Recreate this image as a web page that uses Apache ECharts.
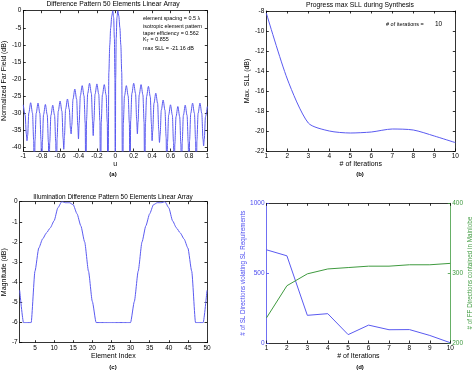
<!DOCTYPE html>
<html><head><meta charset="utf-8">
<script src="https://cdn.jsdelivr.net/npm/echarts@6/dist/echarts.min.js"></script>
<style>html,body{margin:0;padding:0;background:#fff}#c{width:474px;height:371px}</style>
</head><body><div id="c"></div>
<script>
// ---------- (a) Difference pattern (u, dB) ----------
const uA = [
 -1.0, -0.98, -0.967, -0.96,
 -0.953, -0.94, -0.92, -0.90, -0.887, -0.88,
 -0.873, -0.86, -0.84, -0.82, -0.807, -0.80,
 -0.793, -0.78, -0.76, -0.74, -0.727, -0.72,
 -0.713, -0.70, -0.68, -0.66, -0.647, -0.64,
 -0.633, -0.62, -0.60, -0.58, -0.567, -0.56,
 -0.553, -0.54, -0.52, -0.50, -0.487, -0.48,
 -0.473, -0.46, -0.44, -0.42, -0.407, -0.40,
 -0.393, -0.38, -0.36, -0.34, -0.327, -0.32,
 -0.313, -0.30, -0.28, -0.26, -0.247, -0.24,
 -0.233, -0.22, -0.20, -0.18, -0.167, -0.16,
 -0.153, -0.14, -0.12, -0.10, -0.087, -0.08,
 -0.07, -0.06, -0.05, -0.038, -0.027, -0.018, -0.01, -0.004, 0,
 0.004, 0.01, 0.018, 0.027, 0.038, 0.05, 0.06, 0.07, 0.08,
 0.087, 0.10, 0.12, 0.14, 0.153, 0.16,
 0.167, 0.18, 0.20, 0.22, 0.233, 0.24,
 0.247, 0.26, 0.28, 0.30, 0.313, 0.32,
 0.327, 0.34, 0.36, 0.38, 0.393, 0.40,
 0.407, 0.42, 0.44, 0.46, 0.473, 0.48,
 0.487, 0.50, 0.52, 0.54, 0.553, 0.56,
 0.567, 0.58, 0.60, 0.62, 0.633, 0.64,
 0.647, 0.66, 0.68, 0.70, 0.713, 0.72,
 0.727, 0.74, 0.76, 0.78, 0.793, 0.80,
 0.807, 0.82, 0.84, 0.86, 0.873, 0.88,
 0.887, 0.90, 0.92, 0.94, 0.953, 0.96,
 0.967, 0.98, 1.0
];
const dbA = [
 -27.5, -30.5, -36, -38,
 -36.5, -29.9, -26.9, -29.9, -37.9, -60,
 -38.0, -30.0, -27.0, -30.0, -38.0, -60,
 -38.4, -30.4, -27.4, -30.4, -38.4, -60,
 -38.6, -30.6, -27.6, -30.6, -38.6, -60,
 -37.4, -29.4, -26.4, -29.4, -37.4, -40.5,
 -36.8, -28.8, -25.8, -28.8, -34.5, -36,
 -33.5, -25.9, -22.9, -25.9, -33.9, -37.5,
 -32.9, -24.9, -21.9, -24.9, -32.9, -60,
 -32.2, -24.2, -21.2, -24.2, -32.2, -36.5,
 -32.4, -24.4, -21.4, -24.4, -32.4, -60,
 -32.6, -24.6, -21.6, -24.6, -32.6, -60,
 -18, -10, -5, -1.5, 0, -2, -8, -20, -60,
 -20, -8, -2, 0, -1.5, -5, -10, -18, -60,
 -32.9, -24.9, -21.9, -24.9, -32.9, -60,
 -32.2, -24.2, -21.2, -24.2, -32.2, -36,
 -32.6, -24.6, -21.6, -24.6, -32.6, -60,
 -33.1, -25.1, -22.1, -25.1, -33.1, -38,
 -35.1, -27.1, -24.1, -27.1, -35.1, -38.5,
 -36.5, -29.1, -26.1, -29.1, -37.1, -60,
 -38.5, -30.5, -27.5, -30.5, -38.5, -60,
 -39.0, -31.0, -28.0, -31.0, -39.0, -60,
 -38.6, -30.6, -27.6, -30.6, -38.6, -60,
 -38.0, -30.0, -27.0, -30.0, -38.0, -60,
 -38.0, -30.0, -27.0, -30.0, -37.5, -39.5,
 -37.5, -31.0, -28.0
];
const aYTicks = [0, -5, -10, -15, -20, -25, -30, -35, -40];
const aNotes = ['element spacing = 0.5 \u03bb', 'isotropic element pattern', 'taper efficiency = 0.562', 'K{s|T} = 0.855', 'max SLL = -21.16 dB'];

// ---------- (b) Progress of max SLL ----------
const iterB = [1, 2, 3, 4, 5, 6, 7, 8, 9, 10];
const sllB = [-8.2, -14.8, -19.2, -20.0, -20.2, -20.1, -19.8, -19.9, -20.5, -21.16];

// ---------- (c) Illumination ----------
const elemC = [
 1, 2, 3, 4, 5, 6, 7, 8, 9, 10, 11, 12, 13, 14, 15, 16, 17, 18, 19, 20, 21, 22, 23, 24, 25,
 26, 27, 28, 29, 30, 31, 32, 33, 34, 35, 36, 37, 38, 39, 40, 41, 42, 43, 44, 45, 46, 47, 48, 49, 50
];
const magC = [
 -4.4, -6, -6, -6, -3.45, -2.3, -1.85, -1.55, -1.3, -0.95,
 -0.3, 0, -0.05, -0.05, -0.15, -0.6, -1.2, -2.0, -3.45, -4.95,
 -6, -6, -6, -6, -6, -6, -6, -6, -6, -6,
 -4.95, -3.45, -2.0, -1.2, -0.6, -0.15, -0.05, -0.05, 0, -0.3,
 -0.95, -1.3, -1.55, -1.85, -2.3, -3.45, -6, -6, -6, -4.4
];
const cXTicks = [5, 10, 15, 20, 25, 30, 35, 40, 45, 50];

// ---------- (d) Directions ----------
const iterD = [1, 2, 3, 4, 5, 6, 7, 8, 9, 10];
const violD = [667, 624, 198, 210, 60, 128, 95, 96, 54, 2];
const ffD = [236, 282, 299, 306, 308, 310, 310, 312, 312, 314];

const F = 'Liberation Sans, Arial, sans-serif';
const BLUE = '#5a5af0';
const AXBLUE = '#4a4af0';
const GREEN = '#3f9a3f';
const FS = 6.5;

function xAx(gi, min, max, extra) {
  return Object.assign({
    type: 'value', gridIndex: gi, min: min, max: max, position: 'bottom',
    axisLine: {show: true, onZero: false, lineStyle: {color: '#000', width: 0.8}},
    axisTick: {show: true, inside: true, length: 2.5, lineStyle: {color: '#000', width: 0.8}},
    axisLabel: {show: true, fontFamily: F, fontSize: FS, color: '#000', margin: 2},
    splitLine: {show: false},
    nameLocation: 'middle', nameGap: 9,
    nameTextStyle: {fontFamily: F, fontSize: 7, color: '#000'}
  }, extra || {});
}
function yAx(gi, min, max, extra) {
  return Object.assign({
    type: 'value', gridIndex: gi, min: min, max: max, position: 'left',
    axisLine: {show: true, onZero: false, lineStyle: {color: '#000', width: 0.8}},
    axisTick: {show: true, inside: true, length: 2.5, lineStyle: {color: '#000', width: 0.8}},
    axisLabel: {show: true, fontFamily: F, fontSize: FS, color: '#000', margin: 2},
    splitLine: {show: false},
    nameLocation: 'middle', nameGap: 10, nameRotate: 90,
    nameTextStyle: {fontFamily: F, fontSize: 7, color: '#000'}
  }, extra || {});
}
function mirror(ax, pos) {
  const m = JSON.parse(JSON.stringify(ax));
  m.position = pos;
  m.axisLabel.show = false;
  delete m.name;
  return m;
}

const xa0 = xAx(0, -1, 1, {interval: 0.2, name: 'u'});
const ya0 = yAx(0, -41, 0, {
  name: 'Normalized Far Field (dB)', nameGap: 11,
  axisTick: {show: true, inside: true, length: 2.5, customValues: aYTicks, lineStyle: {color: '#000', width: 0.8}},
  axisLabel: {show: true, fontFamily: F, fontSize: FS, color: '#000', margin: 2, customValues: aYTicks}
});
const xa1 = xAx(1, 1, 10, {interval: 1, name: '# of Iterations'});
const ya1 = yAx(1, -22, -8, {interval: 2, name: 'Max. SLL (dB)', nameGap: 12});
const xa2 = xAx(2, 1, 50, {
  name: 'Element Index',
  axisTick: {show: true, inside: true, length: 2.5, customValues: cXTicks, lineStyle: {color: '#000', width: 0.8}},
  axisLabel: {show: true, fontFamily: F, fontSize: FS, color: '#000', margin: 2, customValues: cXTicks}
});
const ya2 = yAx(2, -7, 0, {interval: 1, name: 'Magnitude (dB)', nameGap: 10});
const xa3 = xAx(3, 1, 10, {interval: 1, name: '# of Iterations'});
const ya3 = yAx(3, 0, 1000, {
  interval: 500, name: '# of SL Directions violating SL Requirements', nameGap: 16,
  axisLine: {show: true, onZero: false, lineStyle: {color: AXBLUE, width: 0.8}},
  axisTick: {show: true, inside: true, length: 2.5, lineStyle: {color: AXBLUE, width: 0.8}},
  axisLabel: {show: true, fontFamily: F, fontSize: FS, color: AXBLUE, margin: 2, formatter: v => String(v)},
  nameTextStyle: {fontFamily: F, fontSize: 6.3, color: AXBLUE}
});
const ya3r = yAx(3, 200, 400, {
  interval: 100, position: 'right', name: '# of FF Directions contained in Mainlobe', nameGap: 11,
  axisLine: {show: true, onZero: false, lineStyle: {color: GREEN, width: 0.8}},
  axisTick: {show: true, inside: true, length: 2.5, lineStyle: {color: GREEN, width: 0.8}},
  axisLabel: {show: true, fontFamily: F, fontSize: FS, color: GREEN, margin: 2},
  nameTextStyle: {fontFamily: F, fontSize: 6.3, color: GREEN}
});

const option = {
  animation: false,
  backgroundColor: '#fff',
  grid: [
    {left: 19, top: 10.7, width: 188.3, height: 140.3},
    {left: 266.3, top: 11, width: 189, height: 140},
    {left: 19, top: 201.7, width: 188, height: 141},
    {left: 266.5, top: 203.3, width: 187.5, height: 139.7}
  ],
  xAxis: [xa0, mirror(xa0, 'top'), xa1, mirror(xa1, 'top'), xa2, mirror(xa2, 'top'), xa3, mirror(xa3, 'top')],
  yAxis: [ya0, mirror(ya0, 'right'), ya1, mirror(ya1, 'right'), ya2, mirror(ya2, 'right'), ya3, ya3r],
  series: [
    {type: 'line', xAxisIndex: 0, yAxisIndex: 0, data: uA.map((u, i) => [u, dbA[i]]),
     smooth: 0.3, smoothMonotone: 'x', showSymbol: false, clip: true,
     lineStyle: {color: BLUE, width: 1}},
    {type: 'line', xAxisIndex: 2, yAxisIndex: 2, data: iterB.map((x, i) => [x, sllB[i]]),
     smooth: 0.25, showSymbol: false, lineStyle: {color: BLUE, width: 1}},
    {type: 'line', xAxisIndex: 4, yAxisIndex: 4, data: elemC.map((x, i) => [x, magC[i]]),
     smooth: 0.2, smoothMonotone: 'x', showSymbol: false, lineStyle: {color: BLUE, width: 1}},
    {type: 'line', xAxisIndex: 6, yAxisIndex: 6, data: iterD.map((x, i) => [x, violD[i]]),
     showSymbol: false, lineStyle: {color: BLUE, width: 1}},
    {type: 'line', xAxisIndex: 6, yAxisIndex: 7, data: iterD.map((x, i) => [x, ffD[i]]),
     showSymbol: false, lineStyle: {color: GREEN, width: 1}}
  ],
  graphic: [
    {type: 'text', x: 113, y: 4, style: {text: 'Difference Pattern 50 Elements Linear Array', font: '6.8px ' + F, fill: '#000', align: 'center', verticalAlign: 'middle'}},
    {type: 'text', x: 360, y: 5, style: {text: 'Progress max SLL during Synthesis', font: '6.8px ' + F, fill: '#000', align: 'center', verticalAlign: 'middle'}},
    {type: 'text', x: 113, y: 197, style: {text: 'Illumination Difference Pattern 50 Elements Linear Array', font: '6.4px ' + F, fill: '#000', align: 'center', verticalAlign: 'middle'}},
    {type: 'text', x: 113, y: 174, style: {text: '(a)', font: 'bold 6px ' + F, fill: '#000', align: 'center', verticalAlign: 'middle'}},
    {type: 'text', x: 360, y: 174, style: {text: '(b)', font: 'bold 6px ' + F, fill: '#000', align: 'center', verticalAlign: 'middle'}},
    {type: 'text', x: 113, y: 367.5, style: {text: '(c)', font: 'bold 6px ' + F, fill: '#000', align: 'center', verticalAlign: 'middle'}},
    {type: 'text', x: 360, y: 367.5, style: {text: '(d)', font: 'bold 6px ' + F, fill: '#000', align: 'center', verticalAlign: 'middle'}},
    {type: 'text', x: 386, y: 24, style: {text: '# of iterations =', font: '5.5px ' + F, fill: '#000', verticalAlign: 'middle'}},
    {type: 'text', x: 435, y: 24, style: {text: '10', font: '6.5px ' + F, fill: '#000', verticalAlign: 'middle'}},
    {type: 'text', x: 143, y: 19, style: {text: aNotes[0], font: '5.4px ' + F, fill: '#000', verticalAlign: 'middle'}},
    {type: 'text', x: 143, y: 26.3, style: {text: aNotes[1], font: '5.4px ' + F, fill: '#000', verticalAlign: 'middle'}},
    {type: 'text', x: 143, y: 33.3, style: {text: aNotes[2], font: '5.4px ' + F, fill: '#000', verticalAlign: 'middle'}},
    {type: 'text', x: 143, y: 39.5, style: {text: aNotes[3], font: '5.4px ' + F, fill: '#000', verticalAlign: 'middle',
      rich: {s: {fontSize: 4, fontFamily: F, verticalAlign: 'bottom', padding: [3, 0, 0, 0]}}}},
    {type: 'text', x: 143, y: 48.3, style: {text: aNotes[4], font: '5.4px ' + F, fill: '#000', verticalAlign: 'middle'}}
  ]
};
const chart = echarts.init(document.getElementById('c'), null, {renderer: 'canvas'});
chart.setOption(option);
</script>
</body></html>
